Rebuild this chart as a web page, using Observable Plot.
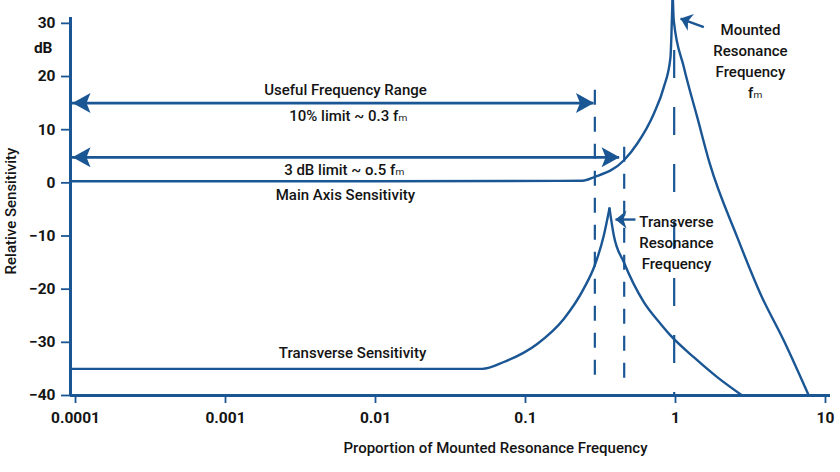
<!DOCTYPE html>
<html>
<head>
<meta charset="utf-8">
<script src="https://cdn.jsdelivr.net/npm/d3@7"></script>
<script src="https://cdn.jsdelivr.net/npm/@observablehq/plot@0.6"></script>
<style>
  body { margin: 0; background: #fff; }
</style>
</head>
<body>
<div id="chart"></div>
<script>
// ---- Axis ticks ----
const xTicks = [0.0001, 0.001, 0.01, 0.1, 1, 10];
const xTickLabels = ["0.0001", "0.001", "0.01", "0.1", "1", "10"];
const yTicks = [30, 20, 10, 0, -10, -20, -30, -40];

// ---- Main axis sensitivity (rising branch and falling branch of the resonance) ----
const mainRiseX = [0.0000926, 0.01, 0.24, 0.288, 0.452, 0.555, 0.717, 0.836, 0.926, 0.940, 0.958];
const mainRiseY = [0.3, 0.3, 0.4, 1.1, 4.2, 7.35, 13.0, 18.0, 23.6, 28.0, 36.0];
const mainFallX = [0.958, 0.974, 1.136, 1.395, 1.693, 2.578, 3.687, 5.272, 7.738];
const mainFallY = [36.0, 30.5, 21.8, 12.4, 3.6, -10.2, -20.9, -29.65, -40];

// ---- Transverse sensitivity ----
const transRiseX = [0.0000926, 0.0514, 0.0717, 0.1197, 0.180, 0.2446, 0.2897, 0.3327, 0.363];
const transRiseY = [-35, -35, -33.7, -30.3, -25.6, -19.9, -15.5, -9.9, -4.8];
const transFallX = [0.363, 0.388, 0.452, 0.615, 0.794, 0.926, 1.324, 1.897, 2.784];
const transFallY = [-4.8, -9.9, -14.9, -22.45, -26.5, -28.7, -32.8, -36.55, -40];

// ---- Limit markers (dashed verticals) ----
const limitX = [0.29, 0.455];
const limitTop = [17.4, 6.7];
const limitBottom = [-37.2, -37.2];
const resonanceX = [0.98];
const resonanceTop = [24.9];
const resonanceBottom = [-40];

// ---- Range arrows ----
const rangeArrowLevel = [15, 4.8];
const rangeArrowStart = [0.0000955, 0.0000955];
const rangeArrowEnd = [0.286, 0.424];

// ---- Pointer arrows (tip, tail) ----
const pointerTipX = [1.08, 0.398];
const pointerTipY = [30.9, -6.9];
const pointerTailX = [1.545, 0.541];
const pointerTailY = [29.3, -6.9];

// ---- Domains ----
const xDomain = [0.0000926, 10.8];
const yDomain = [-40, 34.3];
const yAxisTop = 31.1;

const blue = "#1a5694";
const ink = "#141414";

const mainCurve = [
  ...mainRiseX.map((x, i) => ({x, y: mainRiseY[i], part: "rise"})),
  ...mainFallX.map((x, i) => ({x, y: mainFallY[i], part: "fall"}))
];
const transCurve = [
  ...transRiseX.map((x, i) => ({x, y: transRiseY[i], part: "rise"})),
  ...transFallX.map((x, i) => ({x, y: transFallY[i], part: "fall"}))
];
const limits = limitX.map((x, i) => ({x, y1: limitTop[i], y2: limitBottom[i]}));
const resonance = resonanceX.map((x, i) => ({x, y1: resonanceTop[i], y2: resonanceBottom[i]}));
const rangeArrows = rangeArrowLevel.map((y, i) => ({y, x1: rangeArrowStart[i], x2: rangeArrowEnd[i]}));
const pointers = pointerTipX.map((x, i) => ({
  x1: pointerTailX[i], y1: pointerTailY[i], x2: x, y2: pointerTipY[i]
}));

// barbed arrowhead symbol pointing right, tip at origin
function arrowHead(len, half, notch) {
  return {
    draw(ctx) {
      ctx.moveTo(0, 0);
      ctx.lineTo(-len, -half);
      ctx.lineTo(-len + notch, 0);
      ctx.lineTo(-len, half);
      ctx.closePath();
    }
  };
}
const bigHead = arrowHead(18, 10, 4);
const smallHead = arrowHead(11, 9, 3);

const txt = (s, x, y, extra = {}) =>
  Plot.text([s], {x: () => x, y: () => y, text: d => d, fill: ink, fontWeight: 500, fontSize: 15, ...extra});

const chart = Plot.plot({
  width: 840,
  height: 472,
  marginLeft: 70,
  marginRight: 10,
  marginTop: 0,
  marginBottom: 77,
  x: {type: "log", domain: xDomain},
  y: {domain: yDomain},
  style: {fontFamily: "Roboto, 'DejaVu Sans', sans-serif", fontSize: "15px", color: ink, background: "#fff"},
  marks: [
    // dashed verticals
    Plot.ruleX(limits, {x: "x", y1: "y1", y2: "y2", stroke: blue, strokeWidth: 2.2, strokeDasharray: "15,12"}),
    Plot.ruleX(resonance, {x: "x", y1: "y1", y2: "y2", stroke: blue, strokeWidth: 2.2, strokeDasharray: "28,29"}),
    // curves
    Plot.line(mainCurve, {x: "x", y: "y", z: "part", curve: "monotone-x", stroke: blue, strokeWidth: 2.4}),
    Plot.line(transCurve, {x: "x", y: "y", z: "part", curve: "monotone-x", stroke: blue, strokeWidth: 2.4}),
    // range arrows
    Plot.ruleY(rangeArrows, {y: "y", x1: "x1", x2: "x2", stroke: blue, strokeWidth: 2.6}),
    Plot.dot(rangeArrows, {x: "x1", y: "y", symbol: bigHead, rotate: 180, fill: blue, stroke: "none", r: 8}),
    Plot.dot(rangeArrows, {x: "x2", y: "y", symbol: bigHead, rotate: 0, fill: blue, stroke: "none", r: 8}),
    // pointer arrows
    Plot.link(pointers, {x1: "x1", y1: "y1", x2: "x2", y2: "y2", stroke: blue, strokeWidth: 2.4}),
    Plot.dot([pointers[0]], {x: "x2", y: "y2", symbol: smallHead, rotate: -160, fill: blue, stroke: "none", r: 6}),
    Plot.dot([pointers[1]], {x: "x2", y: "y2", symbol: smallHead, rotate: 180, fill: blue, stroke: "none", r: 6}),
    // axes
    Plot.ruleY([yDomain[0]], {x1: xDomain[0], x2: xDomain[1], stroke: blue, strokeWidth: 3}),
    Plot.ruleX([xDomain[0]], {y1: yDomain[0], y2: yAxisTop, stroke: blue, strokeWidth: 3}),
    Plot.axisX(xTicks, {
      tickSize: 8, tickPadding: 8, stroke: blue, strokeWidth: 1.8, fill: ink,
      fontWeight: 700, fontSize: 15.5, label: null,
      tickFormat: d => xTickLabels[xTicks.indexOf(d)]
    }),
    Plot.axisY(yTicks, {
      tickSize: 9, tickPadding: 6, stroke: blue, strokeWidth: 1.8, fill: ink,
      fontWeight: 700, fontSize: 15.5, label: null
    }),
    // axis titles
    Plot.text(["dB"], {frameAnchor: "top-left", dx: -18, dy: 48, lineAnchor: "middle", text: d => d, textAnchor: "end", fill: ink, fontWeight: 700, fontSize: 15.5}),
    Plot.text(["Relative Sensitivity"], {frameAnchor: "left", dx: -59, dy: 13, rotate: -90, textAnchor: "middle", lineAnchor: "middle", text: d => d, fill: ink, fontWeight: 500, fontSize: 15}),
    Plot.text(["Proportion of Mounted Resonance Frequency"], {frameAnchor: "bottom", dx: 45, dy: 53, lineAnchor: "middle", text: d => d, fill: ink, fontWeight: 500, fontSize: 15}),
    // annotations
    txt("Useful Frequency Range", 0.00631, 17.4),
    txt("10% limit ~ 0.3 f\u2098", 0.0066, 12.5),
    txt("3 dB limit ~ o.5 f\u2098", 0.0062, 2.3),
    txt("Main Axis Sensitivity", 0.0063, -2.4),
    txt("Transverse Sensitivity", 0.00703, -32.1),
    txt("Mounted", 3.16, 28.66),
    txt("Resonance", 3.16, 24.7),
    txt("Frequency", 3.16, 20.8),
    txt("f\u2098", 3.4, 16.8),
    txt("Transverse", 1.015, -7.45),
    txt("Resonance", 1.015, -11.4),
    txt("Frequency", 1.015, -15.35)
  ]
});
document.getElementById("chart").appendChild(chart);
</script>
</body>
</html>
